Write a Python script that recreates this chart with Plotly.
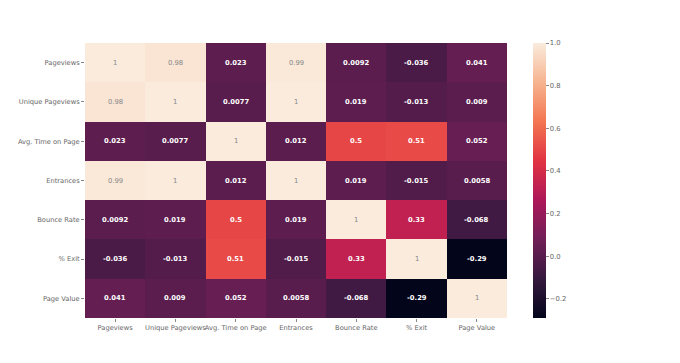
import plotly.graph_objects as go

labels = ["Pageviews", "Unique Pageviews", "Avg. Time on Page", "Entrances",
          "Bounce Rate", "% Exit", "Page Value"]
corr = [
    [1, 0.98, 0.023, 0.99, 0.0092, -0.036, 0.041],
    [0.98, 1, 0.0077, 1, 0.019, -0.013, 0.009],
    [0.023, 0.0077, 1, 0.012, 0.5, 0.51, 0.052],
    [0.99, 1, 0.012, 1, 0.019, -0.015, 0.0058],
    [0.0092, 0.019, 0.5, 0.019, 1, 0.33, -0.068],
    [-0.036, -0.013, 0.51, -0.015, 0.33, 1, -0.29],
    [0.041, 0.009, 0.052, 0.0058, -0.068, -0.29, 1],
]
text_labels = [
    ["1", "0.98", "0.023", "0.99", "0.0092", "-0.036", "0.041"],
    ["0.98", "1", "0.0077", "1", "0.019", "-0.013", "0.009"],
    ["0.023", "0.0077", "1", "0.012", "0.5", "0.51", "0.052"],
    ["0.99", "1", "0.012", "1", "0.019", "-0.015", "0.0058"],
    ["0.0092", "0.019", "0.5", "0.019", "1", "0.33", "-0.068"],
    ["-0.036", "-0.013", "0.51", "-0.015", "0.33", "1", "-0.29"],
    ["0.041", "0.009", "0.052", "0.0058", "-0.068", "-0.29", "1"],
]

rocket = [
    [0.0, "#03051a"],
    [1/7, "#35193e"],
    [2/7, "#701f57"],
    [3/7, "#ad1759"],
    [4/7, "#e13342"],
    [5/7, "#f37651"],
    [6/7, "#f6b48f"],
    [1.0, "#faebdd"],
]

fig = go.Figure(go.Heatmap(
    z=corr, x=labels, y=labels, colorscale=rocket, zmin=-0.29, zmax=1.0,
    showscale=True,
    colorbar=dict(thickness=13, len=1, lenmode="fraction", y=0.5, yanchor="middle",
                  x=1.0616, xanchor="left", xpad=0, ypad=0, outlinewidth=0,
                  tickvals=[-0.2, 0, 0.2, 0.4, 0.6, 0.8, 1.0],
                  ticktext=["\u22120.2", "0.0", "0.2", "0.4", "0.6", "0.8", "1.0"],
                  ticks="outside", ticklen=3, tickcolor="#888",
                  tickfont=dict(size=6.8, color="#666")),
))

for i, row in enumerate(corr):
    for j, v in enumerate(row):
        light = v > 0.9
        fig.add_annotation(
            x=labels[j], y=labels[i], text=text_labels[i][j], showarrow=False,
            font=dict(size=6.8, color="#888888" if light else "#ffffff",
                      family="DejaVu Sans", weight=("normal" if light else "bold")),
        )

fig.update_layout(
    width=672, height=355,
    margin=dict(l=77, r=173, t=35, b=45),
    paper_bgcolor="white", plot_bgcolor="white",
    font=dict(family="DejaVu Sans", size=6.8, color="#666"),
    xaxis=dict(ticks="outside", ticklen=3, tickcolor="#888", showgrid=False,
               tickangle=0, automargin=False,
               tickfont=dict(size=6.7, color="#666"), zeroline=False),
    yaxis=dict(ticks="outside", ticklen=3, tickcolor="#888", showgrid=False,
               automargin=False,
               autorange="reversed", tickfont=dict(size=6.7, color="#666"), zeroline=False),
)

fig.write_html("out.html")
